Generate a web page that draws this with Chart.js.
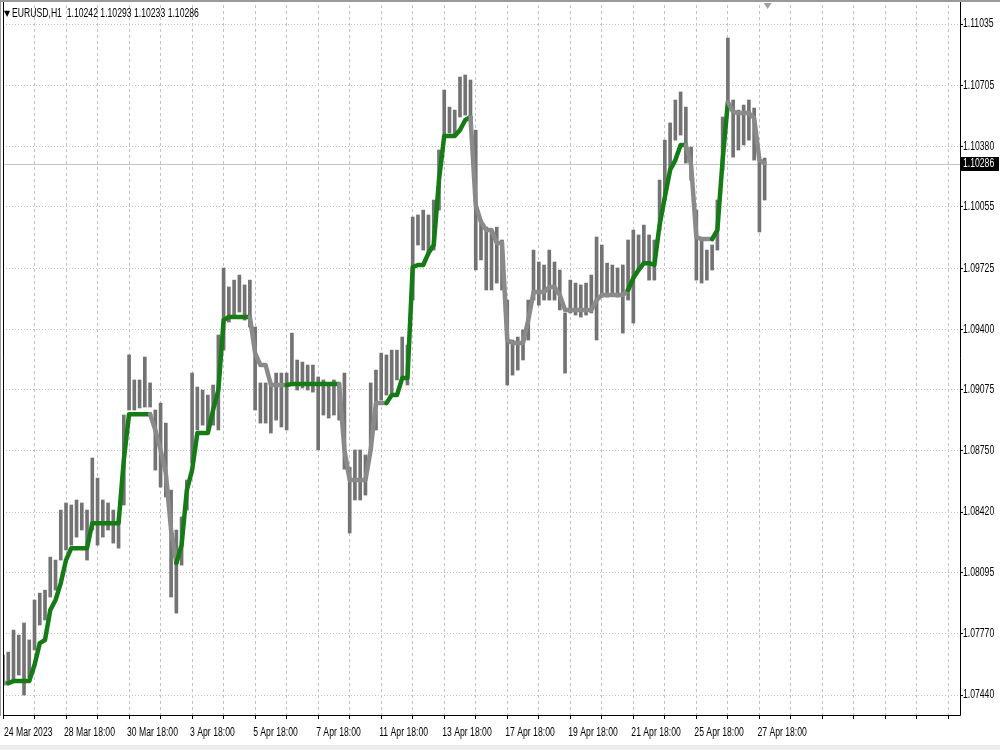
<!DOCTYPE html>
<html>
<head>
<meta charset="utf-8">
<script src="https://cdn.jsdelivr.net/npm/chart.js@4"></script>
<style>
  html, body { margin: 0; padding: 0; background: #fff; }
  canvas { display: block; }
</style>
</head>
<body>
<canvas id="mtChart" width="1000" height="750"></canvas>
<script>
// EURUSD H1, one sample = 4 hours (6 per trading day), day 0 = 24 Mar 18:00
var symbolTitle = "EURUSD,H1  1.10242 1.10293 1.10233 1.10286";
var lastPrice = 1.10286;

var barHigh = [
  1.07654,1.07670,1.07788,1.07761,1.07826,1.07735,1.07949,1.07986,1.08002,1.08179,
  1.08163,1.08431,1.08469,1.08458,1.08485,1.08469,1.08431,1.08710,1.08602,1.08485,
  1.08469,1.08431,1.08394,1.08940,1.09262,1.09128,1.09128,1.09251,1.09112,1.08967,
  1.09004,1.08897,1.08538,1.08324,1.08394,1.08592,1.09165,1.09090,1.09074,1.09047,
  1.09101,1.09369,1.09728,1.09626,1.09663,1.09690,1.09637,1.09663,1.09412,1.09112,
  1.09112,1.09112,1.09165,1.09165,1.09165,1.09379,1.09235,1.09224,1.09208,1.09208,
  1.09144,1.09128,1.09101,1.09128,1.09101,1.09165,1.08661,1.08753,1.08753,1.08726,
  1.09112,1.09181,1.09272,1.09262,1.09288,1.09288,1.09358,1.09315,1.10001,1.10012,
  1.10038,1.10012,1.10092,1.10360,1.10681,1.10590,1.10574,1.10751,1.10762,1.10735,
  1.10467,1.09985,1.09947,1.09931,1.09947,1.09878,1.09556,1.09342,1.09358,1.09396,
  1.09556,1.09824,1.09760,1.09744,1.09824,1.09760,1.09717,1.09487,1.09663,1.09647,
  1.09637,1.09647,1.09690,1.09894,1.09851,1.09754,1.09744,1.09728,1.09744,1.09878,
  1.09931,1.09905,1.09958,1.09905,1.09878,1.10199,1.10413,1.10505,1.10628,1.10671,
  1.10590,1.10376,1.10038,1.09878,1.09824,1.09851,1.10092,1.10537,1.10960,1.10628,
  1.10574,1.10601,1.10628,1.10585,1.10306,1.10317
];
var barLow = [
  1.07493,1.07504,1.07520,1.07547,1.07440,1.07536,1.07681,1.07815,1.07842,1.07965,
  1.08002,1.08163,1.08217,1.08243,1.08286,1.08324,1.08163,1.08324,1.08243,1.08286,
  1.08324,1.08254,1.08227,1.08458,1.08967,1.08967,1.08978,1.08983,1.08983,1.08645,
  1.08554,1.08501,1.07965,1.07879,1.08136,1.08431,1.08683,1.08860,1.08886,1.08860,
  1.08886,1.08860,1.09288,1.09438,1.09476,1.09492,1.09449,1.09412,1.08967,1.08897,
  1.08897,1.08844,1.08913,1.08876,1.08860,1.09112,1.09074,1.09085,1.09074,1.09063,
  1.08753,1.08940,1.08924,1.08940,1.08913,1.08650,1.08308,1.08485,1.08485,1.08511,
  1.08753,1.08860,1.09020,1.09047,1.09058,1.09128,1.09128,1.09101,1.09556,1.09851,
  1.09824,1.09797,1.09824,1.10038,1.10440,1.10451,1.10440,1.10537,1.10547,1.10521,
  1.09717,1.09771,1.09610,1.09610,1.09647,1.09610,1.09101,1.09154,1.09181,1.09235,
  1.09342,1.09556,1.09529,1.09556,1.09556,1.09556,1.09503,1.09165,1.09487,1.09476,
  1.09465,1.09476,1.09487,1.09342,1.09572,1.09572,1.09583,1.09572,1.09379,1.09556,
  1.09433,1.09717,1.09744,1.09663,1.09663,1.09931,1.10092,1.10253,1.10413,1.10440,
  1.10290,1.10199,1.09663,1.09647,1.09663,1.09717,1.09824,1.10253,1.10590,1.10322,
  1.10360,1.10387,1.10413,1.10306,1.09921,1.10092
];
// trend line indicator
var trendLine = [
  1.07504,1.07504,1.07515,1.07515,1.07515,1.07515,1.07601,1.07718,1.07735,1.07895,
  1.07949,1.08040,1.08163,1.08227,1.08227,1.08227,1.08227,1.08361,1.08361,1.08361,
  1.08361,1.08361,1.08361,1.08699,1.08945,1.08945,1.08945,1.08945,1.08945,1.08860,
  1.08753,1.08629,1.08324,1.08147,1.08243,1.08538,1.08645,1.08844,1.08844,1.08844,
  1.08967,1.09074,1.09449,1.09465,1.09465,1.09465,1.09465,1.09465,1.09272,1.09208,
  1.09208,1.09101,1.09101,1.09101,1.09101,1.09106,1.09106,1.09106,1.09106,1.09106,
  1.09106,1.09106,1.09106,1.09106,1.09106,1.08753,1.08592,1.08592,1.08592,1.08592,
  1.08753,1.09004,1.09004,1.09004,1.09047,1.09047,1.09138,1.09138,1.09733,1.09744,
  1.09744,1.09808,1.09851,1.10199,1.10435,1.10435,1.10435,1.10467,1.10521,1.10537,
  1.10065,1.09974,1.09931,1.09931,1.09862,1.09862,1.09342,1.09326,1.09326,1.09326,
  1.09449,1.09599,1.09599,1.09599,1.09626,1.09626,1.09583,1.09503,1.09503,1.09503,
  1.09503,1.09503,1.09503,1.09556,1.09583,1.09583,1.09583,1.09583,1.09583,1.09610,
  1.09674,1.09717,1.09754,1.09754,1.09744,1.09958,1.10108,1.10253,1.10306,1.10387,
  1.10387,1.10280,1.09894,1.09883,1.09883,1.09883,1.09931,1.10306,1.10617,1.10564,
  1.10558,1.10558,1.10558,1.10531,1.10306,1.10290
];
// 1 = up (green), 0 = down (gray)
var trendUp = [
  0,0,1,1,1,1,1,1,1,1, 1,1,1,1,1,1,1,1,1,1, 1,1,1,1,1,1,1,1,1,0,
  0,0,0,0,1,1,1,1,1,1, 1,1,1,1,1,1,1,1,0,0, 0,0,0,0,0,1,1,1,1,1,
  1,1,1,1,1,0,0,0,0,0, 0,0,0,0,1,1,1,1,1,1, 1,1,1,1,1,1,1,1,1,1,
  0,0,0,0,0,0,0,0,0,0, 0,0,0,0,0,0,0,0,0,0, 0,0,0,0,0,0,0,0,0,0,
  1,1,1,1,1,1,1,1,1,1, 1,0,0,0,0,0,1,1,1,0, 0,0,0,0,0,0
];

var priceTicks = [1.07440, 1.07770, 1.08095, 1.08420, 1.08750, 1.09075, 1.09400, 1.09725, 1.10055, 1.10380, 1.10705, 1.11035];
var dayLabels = ["24 Mar 2023", "28 Mar 18:00", "30 Mar 18:00", "3 Apr 18:00", "5 Apr 18:00", "7 Apr 18:00",
  "11 Apr 18:00", "13 Apr 18:00", "17 Apr 18:00", "19 Apr 18:00", "21 Apr 18:00", "25 Apr 18:00", "27 Apr 18:00"];
var labelEvery = 2; // label every second day gridline

var GREEN = '#157b15', GRAY = '#8a8a8a';
var FONT = "12px 'Liberation Sans', Arial, sans-serif";
var SQUEEZE = 0.72; // terminal font is narrow

var barPts = [], linePts = [];
for (var i = 0; i < barHigh.length; i++) {
  barPts.push({ x: i / 6, y: [barLow[i], barHigh[i]] });
  linePts.push({ x: i / 6, y: trendLine[i] });
}
var dayTicks = [];
for (var d = 0; d <= 30; d++) dayTicks.push(d);

function narrowText(c, txt, x, y) {
  c.save();
  c.translate(x, y);
  c.scale(SQUEEZE, 1);
  c.fillText(txt, 0, 0);
  c.restore();
}

var mtOverlay = {
  id: 'mtOverlay',
  beforeDatasetsDraw: function (chart) {
    var c = chart.ctx, a = chart.chartArea, py = Math.round(chart.scales.y.getPixelForValue(lastPrice)) + 0.5;
    c.save();
    c.strokeStyle = '#c4c4c4';
    c.lineWidth = 1;
    c.beginPath(); c.moveTo(a.left, py); c.lineTo(a.right, py); c.stroke();
    c.restore();
  },
  afterDraw: function (chart) {
    var c = chart.ctx, a = chart.chartArea, ys = chart.scales.y, xs = chart.scales.x;
    c.save();
    // frame
    c.strokeStyle = '#000'; c.lineWidth = 1;
    c.beginPath();
    c.moveTo(a.left + 0.5, 2); c.lineTo(a.left + 0.5, a.bottom + 0.5);
    c.lineTo(a.right + 0.5, a.bottom + 0.5); c.lineTo(a.right + 0.5, 2);
    c.stroke();
    c.strokeStyle = '#9a9a9a'; c.lineWidth = 2;
    c.beginPath(); c.moveTo(0, 1); c.lineTo(1000, 1); c.stroke();
    c.lineWidth = 1;
    c.beginPath(); c.moveTo(0.5, 0); c.lineTo(0.5, a.bottom + 1); c.stroke();
    c.fillStyle = '#ececec';
    c.fillRect(0, 745, 1000, 5);

    c.fillStyle = '#000';
    c.font = FONT;
    c.textBaseline = 'middle';
    c.textAlign = 'left';
    // price labels
    priceTicks.forEach(function (v) {
      narrowText(c, v.toFixed(5), a.right + 3, ys.getPixelForValue(v));
    });
    // time labels
    dayLabels.forEach(function (lbl, k) {
      var px = xs.getPixelForValue(k * labelEvery);
      narrowText(c, lbl, Math.max(a.left + 1, px - 2), 733);
    });
    // title
    c.font = "8px 'DejaVu Sans'";
    c.fillText('\u25BC', 4, 14);
    c.font = FONT;
    narrowText(c, symbolTitle, 12, 14);
    // last price box
    var py = Math.round(ys.getPixelForValue(lastPrice));
    c.fillStyle = '#000';
    c.fillRect(a.right + 1, py - 7, 38, 14);
    c.fillStyle = '#fff';
    narrowText(c, lastPrice.toFixed(5), a.right + 3, py);
    // chart shift marker
    var sx = xs.getPixelForValue((barHigh.length - 1) / 6) + 3;
    c.fillStyle = '#a0a0a0';
    c.beginPath(); c.moveTo(sx - 4, 3); c.lineTo(sx + 4, 3); c.lineTo(sx, 9); c.closePath(); c.fill();
    c.restore();
  }
};

new Chart(document.getElementById('mtChart'), {
  type: 'line',
  data: {
    datasets: [
      {
        type: 'line',
        data: linePts,
        borderWidth: 4.5,
        borderColor: GREEN,
        pointRadius: 0,
        tension: 0,
        borderCapStyle: 'round',
        borderJoinStyle: 'round',
        segment: {
          borderColor: function (ctx) { return trendUp[ctx.p1DataIndex] ? GREEN : GRAY; }
        },
        order: 0
      },
      {
        type: 'bar',
        data: barPts,
        backgroundColor: '#737373',
        barThickness: 3,
        order: 1
      }
    ]
  },
  options: {
    responsive: false,
    animation: false,
    layout: { padding: { left: 3, top: 5, right: 0, bottom: 0 } },
    plugins: { legend: { display: false }, tooltip: { enabled: false } },
    scales: {
      x: {
        type: 'linear',
        min: 0,
        max: 30.365,
        offset: false,
        afterBuildTicks: function (s) { s.ticks = dayTicks.map(function (v) { return { value: v }; }); },
        afterFit: function (s) { s.height = 35; },
        grid: { color: '#c2c2c2', offset: false, lineWidth: 1, drawTicks: true, tickLength: 4, tickColor: '#000' },
        border: { display: false, dash: [3, 3] },
        ticks: { display: false, autoSkip: false, maxRotation: 0 }
      },
      y: {
        position: 'right',
        min: 1.07333,
        max: 1.11137,
        afterBuildTicks: function (s) { s.ticks = priceTicks.map(function (v) { return { value: v }; }); },
        afterFit: function (s) { s.width = 40; },
        grid: { color: '#c2c2c2', lineWidth: 1, drawTicks: true, tickLength: 3, tickColor: '#000' },
        border: { display: false, dash: [1, 2] },
        ticks: { display: false }
      }
    }
  },
  plugins: [mtOverlay]
});
</script>
</body>
</html>
